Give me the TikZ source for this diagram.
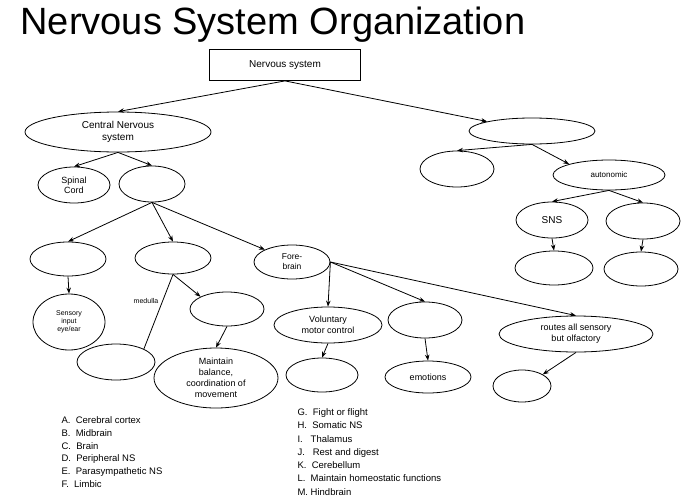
\documentclass[tikz,border=0pt]{standalone}
\usepackage{fontspec}
\setmainfont{Liberation Sans}
\usetikzlibrary{shapes.geometric,arrows.meta}
\begin{document}
\begin{tikzpicture}[x=1pt,y=-1pt,
 el/.style={draw,ellipse,thick,inner sep=0pt,align=center,font=\fontsize{8}{9}\selectfont},
 ar/.style={thick,-{Stealth[length=6pt]}},
 ln/.style={thick}]
\useasboundingbox[fill=white] (0,0) rectangle (700,503);
\node[anchor=west,font=\fontsize{38}{40}\selectfont] (title) at (17,25) {Nervous System Organization};
\node[draw,thick,minimum width=151,minimum height=31,font=\fontsize{10}{12}\selectfont] (ns) at (285,65) {Nervous system};
\node[el,minimum width=186,minimum height=40,font=\fontsize{10}{12}\selectfont] (cns) at (118,132) {Central Nervous\\system};
\node[el,minimum width=126,minimum height=26] (pns) at (532,131) {};
\node[el,minimum width=74,minimum height=36] (som) at (457,169) {};
\node[el,minimum width=112,minimum height=30] (aut) at (609,175) {autonomic};
\node[el,minimum width=72,minimum height=36,font=\fontsize{9}{10}\selectfont] (sc) at (74,185) {Spinal\\Cord};
\node[el,minimum width=66,minimum height=36] (br) at (152,184) {};
\node[el,minimum width=72,minimum height=36,font=\fontsize{10}{12}\selectfont] (sns) at (552,220) {SNS};
\node[el,minimum width=74,minimum height=36] (ps) at (643,221) {};
\node[el,minimum width=78,minimum height=34] (f1) at (554,268) {};
\node[el,minimum width=74,minimum height=34] (f2) at (641,269) {};
\node[el,minimum width=76,minimum height=34] (hb) at (68,259) {};
\node[el,minimum width=76,minimum height=32] (mb) at (173,258) {};
\node[el,minimum width=76,minimum height=34,font=\fontsize{8.5}{10}\selectfont] (fb) at (292,262) {Fore-\\brain};
\node[el,minimum width=72,minimum height=56,font=\fontsize{7}{8}\selectfont] (si) at (69,322) {Sensory\\input\\eye/ear};
\node[font=\fontsize{7}{8}\selectfont] (med) at (146,301) {medulla};
\node[el,minimum width=78,minimum height=36] (e1) at (116,362) {};
\node[el,minimum width=74,minimum height=34] (e2) at (227,309) {};
\node[el,minimum width=124,minimum height=60,font=\fontsize{9}{11}\selectfont] (mbal) at (216,378) {Maintain\\balance,\\coordination of\\movement};
\node[el,minimum width=108,minimum height=36,font=\fontsize{9}{11}\selectfont] (vmc) at (328,325) {Voluntary\\motor control};
\node[el,minimum width=74,minimum height=36] (e3) at (425,320) {};
\node[el,minimum width=154,minimum height=36,font=\fontsize{9}{11}\selectfont] (rt) at (576,334) {routes all sensory\\but olfactory};
\node[el,minimum width=72,minimum height=34] (e4) at (322,375) {};
\node[el,minimum width=86,minimum height=32,font=\fontsize{9}{11}\selectfont] (emo) at (428,377) {emotions};
\node[el,minimum width=58,minimum height=32] (e5) at (522,386) {};
\draw[ar] (ns.south) -- (cns.north);
\draw[ar] (ns.south) -- (pns.north west);
\draw[ar] (pns.south) -- (som.north);
\draw[ar] (pns.south) -- (aut.north west);
\draw[ar] (cns.south) -- (sc.north);
\draw[ar] (cns.south) -- (br.north);
\draw[ar] (aut.south) -- (sns.north);
\draw[ar] (aut.south) -- (ps.north);
\draw[ar] (sns.south) -- (f1.north);
\draw[ar] (ps.south) -- (f2.north);
\draw[ar] (br.south) -- (hb.north);
\draw[ar] (br.south) -- (mb.north);
\draw[ar] (br.south) -- (fb.north west);
\draw[ar] (hb.south) -- (si.north);
\draw[ln] (mb.south) -- (e1.north east);
\draw[ar] (mb.south) -- (e2.north west);
\draw[ar] (e2.south) -- (mbal.north);
\draw[ar] (fb.east) -- (vmc.north);
\draw[ar] (fb.east) -- (e3.north);
\draw[ar] (fb.east) -- (rt.north);
\draw[ar] (vmc.south) -- (e4.north);
\draw[ar] (e3.south) -- (emo.north);
\draw[ar] (rt.south) -- (e5.north east);
\node[anchor=north west,align=left,font=\fontsize{9.5}{12.8}\selectfont] (l1) at (58,413) {A.\ \ Cerebral cortex\\B.\ \ Midbrain\\C.\ \ Brain\\D.\ \ Peripheral NS\\E.\ \ Parasympathetic NS\\F.\ \ Limbic};
\node[anchor=north west,align=left,font=\fontsize{9.5}{13.3}\selectfont] (l2) at (294,405) {G.\ \ Fight or flight\\H.\ \ Somatic NS\\I.\ \ \ Thalamus\\J.\ \ \ Rest and digest\\K.\ \ Cerebellum\\L.\ \ Maintain homeostatic functions\\M.\ Hindbrain};
\end{tikzpicture}
\end{document}
